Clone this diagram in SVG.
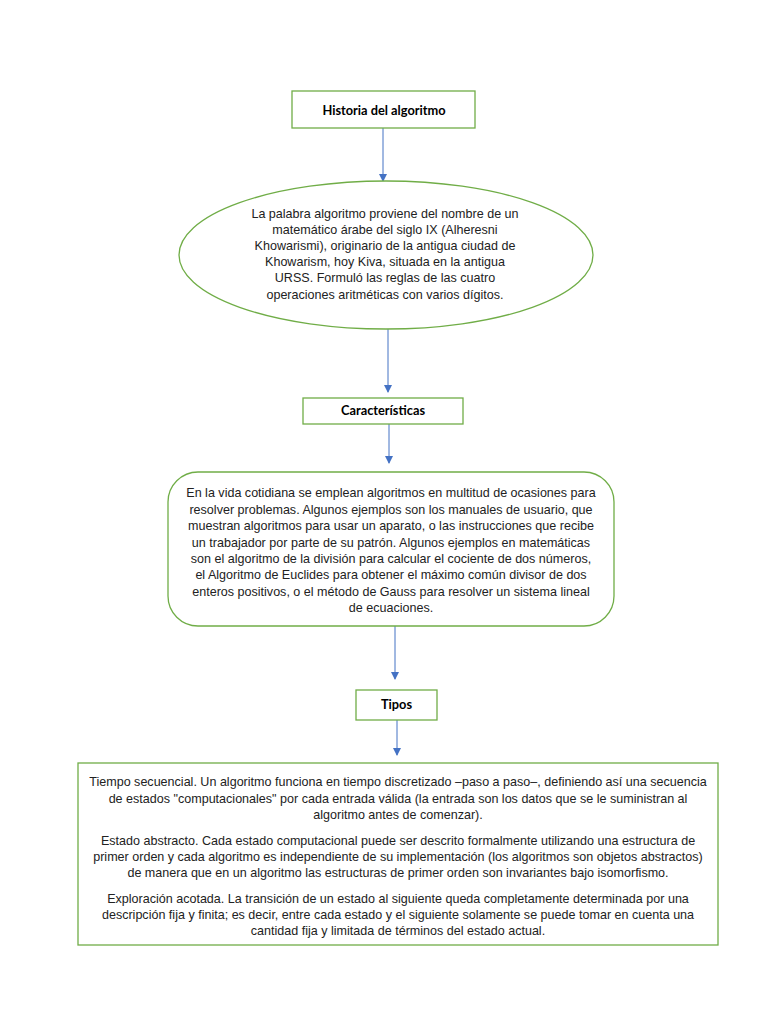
<svg xmlns="http://www.w3.org/2000/svg" width="768" height="1024" viewBox="0 0 768 1024">
<style>
.box{fill:#fff;stroke:#70AD47;stroke-width:1.3}
.title{font-family:Lato,"Liberation Sans",sans-serif;font-weight:bold;font-size:12.8px;fill:#000;text-anchor:middle}
.body{font-family:"Liberation Sans",Arial,sans-serif;font-size:12.55px;fill:#222;text-anchor:middle}
.conn{stroke:#4472C4;stroke-width:1;fill:none;marker-end:url(#ah)}
</style>
<defs>
<marker id="ah" markerWidth="8" markerHeight="8" refX="7" refY="4" orient="auto" markerUnits="userSpaceOnUse">
<path d="M0,0 L8,4 L0,8 Z" fill="#4472C4"/>
</marker>
</defs>
<rect width="768" height="1024" fill="#fff"/>
<g id="connectors">
<line class="conn" x1="383" y1="128" x2="383" y2="181"/>
<line class="conn" x1="388" y1="329" x2="388" y2="392"/>
<line class="conn" x1="389" y1="424" x2="389" y2="463"/>
<line class="conn" x1="395" y1="626" x2="395" y2="679"/>
<line class="conn" x1="397" y1="720" x2="397" y2="755"/>
</g>
<g id="historia">
<rect class="box" x="292" y="91" width="183" height="37"/>
<text class="title" x="384" y="115">Historia del algoritmo</text>
</g>
<g id="origen">
<ellipse class="box" cx="386" cy="255" rx="207" ry="74"/>
<text class="body" x="385" y="218">La palabra algoritmo proviene del nombre de un</text>
<text class="body" x="385" y="234">matemático árabe del siglo IX (Alheresni</text>
<text class="body" x="385" y="250">Khowarismi), originario de la antigua ciudad de</text>
<text class="body" x="385" y="266">Khowarism, hoy Kiva, situada en la antigua</text>
<text class="body" x="385" y="282">URSS. Formuló las reglas de las cuatro</text>
<text class="body" x="385" y="299">operaciones aritméticas con varios dígitos.</text>
</g>
<g id="caracteristicas">
<rect class="box" x="303" y="398" width="160" height="26"/>
<text class="title" x="383" y="415">Características</text>
</g>
<g id="ejemplos">
<rect class="box" x="168" y="472" width="446" height="154" rx="30" ry="30"/>
<text class="body" x="391" y="497">En la vida cotidiana se emplean algoritmos en multitud de ocasiones para</text>
<text class="body" x="391" y="514">resolver problemas. Algunos ejemplos son los manuales de usuario, que</text>
<text class="body" x="391" y="530">muestran algoritmos para usar un aparato, o las instrucciones que recibe</text>
<text class="body" x="391" y="547">un trabajador por parte de su patrón. Algunos ejemplos en matemáticas</text>
<text class="body" x="391" y="563">son el algoritmo de la división para calcular el cociente de dos números,</text>
<text class="body" x="391" y="579">el Algoritmo de Euclides para obtener el máximo común divisor de dos</text>
<text class="body" x="391" y="596">enteros positivos, o el método de Gauss para resolver un sistema lineal</text>
<text class="body" x="391" y="612">de ecuaciones.</text>
</g>
<g id="tipos">
<rect class="box" x="356" y="690" width="81" height="30"/>
<text class="title" x="396.5" y="709">Tipos</text>
</g>
<g id="lista-tipos">
<rect class="box" x="78" y="763" width="640" height="182"/>
<text class="body" x="398" y="786">Tiempo secuencial. Un algoritmo funciona en tiempo discretizado –paso a paso–, definiendo así una secuencia</text>
<text class="body" x="398" y="803">de estados "computacionales" por cada entrada válida (la entrada son los datos que se le suministran al</text>
<text class="body" x="398" y="819">algoritmo antes de comenzar).</text>
<text class="body" x="398" y="845">Estado abstracto. Cada estado computacional puede ser descrito formalmente utilizando una estructura de</text>
<text class="body" x="398" y="861">primer orden y cada algoritmo es independiente de su implementación (los algoritmos son objetos abstractos)</text>
<text class="body" x="398" y="877">de manera que en un algoritmo las estructuras de primer orden son invariantes bajo isomorfismo.</text>
<text class="body" x="398" y="903">Exploración acotada. La transición de un estado al siguiente queda completamente determinada por una</text>
<text class="body" x="398" y="919">descripción fija y finita; es decir, entre cada estado y el siguiente solamente se puede tomar en cuenta una</text>
<text class="body" x="398" y="935">cantidad fija y limitada de términos del estado actual.</text>
</g>
</svg>
